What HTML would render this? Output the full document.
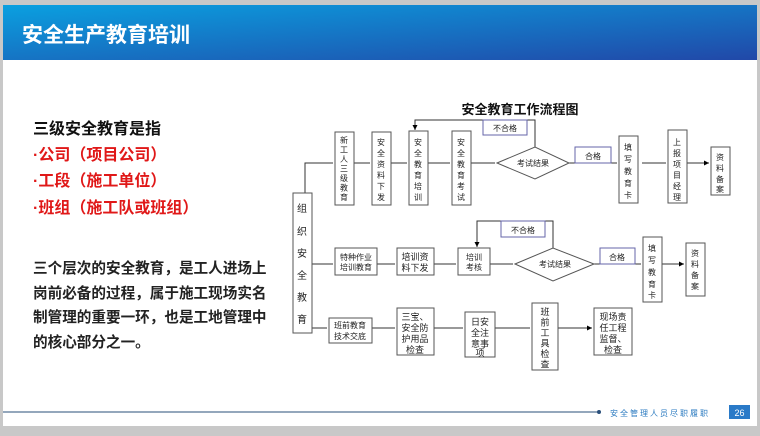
<!DOCTYPE html>
<html><head><meta charset="utf-8"><style>
body{margin:0;width:760px;height:431px;background:#c8c8c8;overflow:hidden;font-family:"Liberation Sans","Noto Sans CJK SC",sans-serif}
</style></head><body>
<svg width="760" height="431" xmlns="http://www.w3.org/2000/svg" font-family="Liberation Sans, Noto Sans CJK SC, sans-serif">
<defs>
<linearGradient id="g" x1="0" y1="0" x2="1" y2="1"><stop offset="0" stop-color="#0aa0e0"/><stop offset="1" stop-color="#2148a8"/></linearGradient>
<marker id="a" markerWidth="6" markerHeight="6" refX="5" refY="3" orient="auto"><path d="M0,0.5 L5,3 L0,5.5z" fill="#000"/></marker>
</defs>
<rect x="3" y="5" width="754" height="421" fill="#fff"/>
<rect x="3" y="5" width="754" height="55" fill="url(#g)"/>
<text x="22" y="42" font-size="21" font-weight="bold" fill="#fff">安全生产教育培训</text>
<g font-size="16" font-weight="bold">
<text x="33" y="134" fill="#111">三级安全教育是指</text>
<text x="33" y="160" fill="#e01818">·公司（项目公司）</text>
<text x="33" y="186" fill="#e01818">·工段（施工单位）</text>
<text x="33" y="213" fill="#e01818">·班组（施工队或班组）</text>
<g fill="#222" font-size="14.6">
<text x="33" y="273">三个层次的安全教育，是工人进场上</text>
<text x="33" y="298">岗前必备的过程，属于施工现场实名</text>
<text x="33" y="322">制管理的重要一环，也是工地管理中</text>
<text x="33" y="347">的核心部分之一。</text>
</g></g>
<text x="520" y="114" font-size="13" font-weight="bold" text-anchor="middle" fill="#111">安全教育工作流程图</text>
<g stroke="#555" stroke-width="1" fill="#fff">
<path d="M305,195 V163 H333 M354,163 H370 M391,163 H407 M428,163 H450 M471,163 H495 M569,163 H617 M642,163 H666 M687,163 H709" fill="none" marker-end="url(#a)" stroke="#333"/>
<path d="M535,147 V120 H415 V130" fill="none" stroke="#333" marker-end="url(#a)"/>
<path d="M305,264 H333 M377,264 H395 M434,264 H456 M490,264 H513 M594,264 H641 M662,264 H684" fill="none" stroke="#333" marker-end="url(#a)"/>
<path d="M553,248 V221 H477 V247" fill="none" stroke="#333" marker-end="url(#a)"/>
<path d="M305,328 H327 M372,328 H395 M434,328 H463 M495,328 H530 M558,328 H592" fill="none" stroke="#333" marker-end="url(#a)"/>
<rect x="293" y="193" width="19" height="140"/>
<rect x="335" y="132" width="19" height="73"/><rect x="372" y="132" width="19" height="73"/>
<rect x="409" y="131" width="19" height="74"/><rect x="452" y="131" width="19" height="74"/>
<path d="M497,163 L535,147 L569,163 L535,179z"/>
<rect x="483" y="120" width="44" height="15" stroke="#66a"/>
<rect x="575" y="147" width="36" height="16" stroke="#66a"/>
<rect x="619" y="136" width="19" height="67"/><rect x="668" y="130" width="19" height="73"/>
<rect x="711" y="147" width="19" height="48"/>
<rect x="335" y="248" width="42" height="27"/><rect x="397" y="248" width="37" height="27"/>
<rect x="458" y="248" width="32" height="27"/>
<path d="M515,264 L553,248 L594,264 L553,281z"/>
<rect x="501" y="221" width="44" height="16" stroke="#66a"/>
<rect x="600" y="248" width="35" height="16" stroke="#66a"/>
<rect x="643" y="237" width="19" height="65"/><rect x="686" y="243" width="19" height="53"/>
<rect x="329" y="318" width="43" height="25"/><rect x="397" y="308" width="37" height="47"/>
<rect x="465" y="312" width="30" height="45"/><rect x="532" y="303" width="26" height="67"/>
<rect x="594" y="308" width="38" height="47"/>
</g>
<g font-size="8" fill="#222" text-anchor="middle">
<text x="505" y="131">不合格</text><text x="593" y="159">合格</text>
<text x="533" y="166">考试结果</text>
<text x="523" y="233">不合格</text><text x="617" y="260">合格</text>
<text x="555" y="267">考试结果</text>
<text x="356" y="260">特种作业</text><text x="356" y="270">培训教育</text>
<text x="474" y="260">培训</text><text x="474" y="270">考核</text>
<text x="350" y="328">班前教育</text><text x="350" y="339">技术交底</text>
</g>
<g font-size="9" fill="#222" text-anchor="middle">
<text x="415" y="260">培训资</text><text x="415" y="271">料下发</text>
<text x="415" y="320">三宝、</text><text x="415" y="331">安全防</text><text x="415" y="342">护用品</text><text x="415" y="353">检查</text>
<text x="480" y="325">日安</text><text x="480" y="336">全注</text><text x="480" y="347">意事</text><text x="480" y="356">项</text>
<text x="613" y="320">现场责</text><text x="613" y="331">任工程</text><text x="613" y="342">监督、</text><text x="613" y="353">检查</text>
</g>
<g font-size="8" fill="#222" text-anchor="middle">
<text x="344" y="143">新</text><text x="344" y="152.5">工</text><text x="344" y="162">人</text><text x="344" y="171.5">三</text><text x="344" y="181">级</text><text x="344" y="190.5">教</text><text x="344" y="200">育</text>
<text x="381" y="145">安</text><text x="381" y="156">全</text><text x="381" y="167">资</text><text x="381" y="178">料</text><text x="381" y="189">下</text><text x="381" y="200">发</text>
<text x="418" y="145">安</text><text x="418" y="156">全</text><text x="418" y="167">教</text><text x="418" y="178">育</text><text x="418" y="189">培</text><text x="418" y="200">训</text>
<text x="461" y="145">安</text><text x="461" y="156">全</text><text x="461" y="167">教</text><text x="461" y="178">育</text><text x="461" y="189">考</text><text x="461" y="200">试</text>
<text x="628" y="150">填</text><text x="628" y="162">写</text><text x="628" y="174">教</text><text x="628" y="186">育</text><text x="628" y="198">卡</text>
<text x="677" y="145">上</text><text x="677" y="156">报</text><text x="677" y="167">项</text><text x="677" y="178">目</text><text x="677" y="189">经</text><text x="677" y="200">理</text>
<text x="720" y="160">资</text><text x="720" y="171">料</text><text x="720" y="182">备</text><text x="720" y="192">案</text>
<text x="652" y="251">填</text><text x="652" y="263">写</text><text x="652" y="275">教</text><text x="652" y="287">育</text><text x="652" y="298">卡</text>
<text x="695" y="256">资</text><text x="695" y="267">料</text><text x="695" y="278">备</text><text x="695" y="289">案</text>
</g>
<g font-size="9" fill="#222" text-anchor="middle">
<text x="545" y="315">班</text><text x="545" y="325.5">前</text><text x="545" y="336">工</text><text x="545" y="346.5">具</text><text x="545" y="357">检</text><text x="545" y="367.5">查</text>
</g>
<g font-size="10" fill="#222" text-anchor="middle">
<text x="302" y="212">组</text><text x="302" y="235">织</text><text x="302" y="257">安</text><text x="302" y="279">全</text><text x="302" y="301">教</text><text x="302" y="323">育</text>
</g>
<line x1="3" y1="412" x2="598" y2="412" stroke="#2a4f7a" stroke-width="1"/>
<circle cx="599" cy="412" r="2" fill="#2a4f7a"/>
<text x="610" y="416" font-size="8" fill="#2a7ac0" letter-spacing="2">安全管理人员尽职履职</text>
<rect x="729" y="405" width="21" height="14" fill="#2a7ac8"/>
<text x="739.5" y="416" font-size="9" fill="#fff" text-anchor="middle">26</text>
</svg>
</body></html>
